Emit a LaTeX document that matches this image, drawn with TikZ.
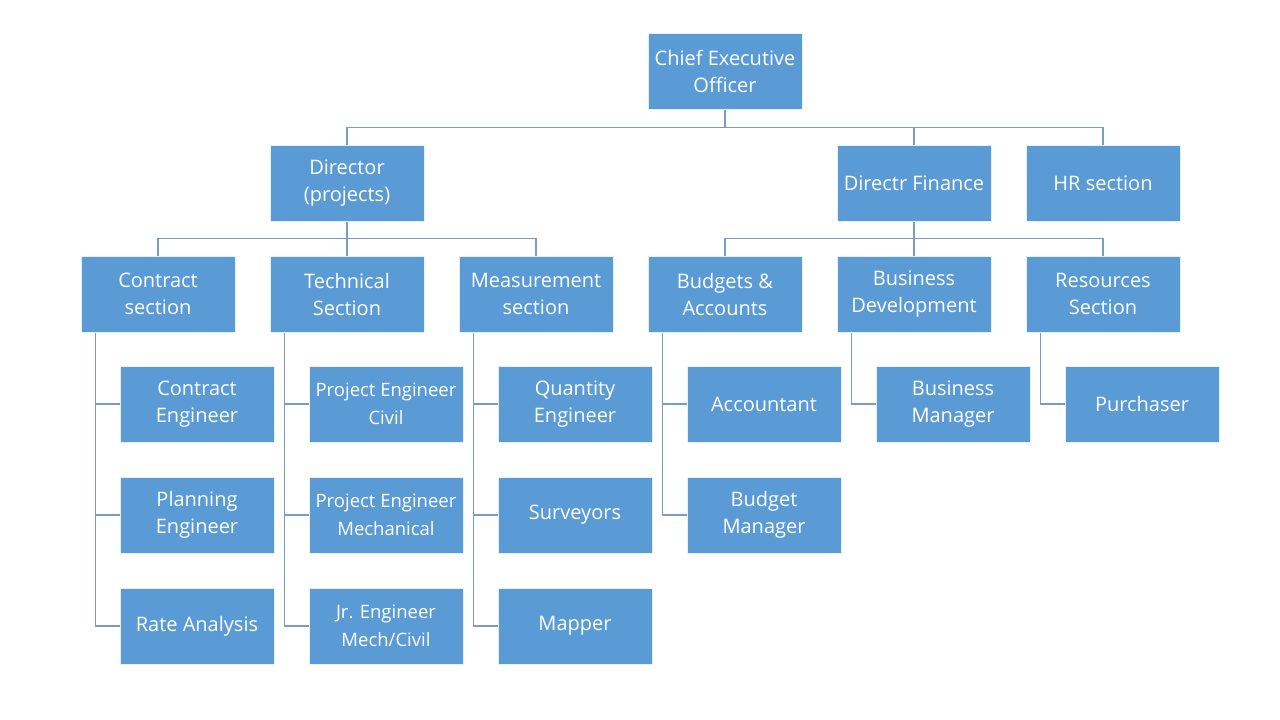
\documentclass[tikz,border=0pt]{standalone}
\usepackage{fontspec}
\setmainfont{Open Sans}
\definecolor{boxc}{HTML}{5B9BD5}
\definecolor{linec}{HTML}{7A9CC0}
\begin{document}
\begin{tikzpicture}[x=1pt,y=-1pt,
  box/.style={fill=boxc,draw=white!85!boxc,line width=1pt,minimum width=154pt,minimum height=76pt,text=white,align=center,font=\fontsize{20}{27}\selectfont,inner sep=1pt},
  sbox/.style={box,font=\fontsize{18.5}{28}\selectfont},
  conn/.style={draw=linec,line width=1.5pt}]
\useasboundingbox (0,0) rectangle (1280,720);
\node[box] (ceo) at (725,71) {Chief Executive\\Officer};
\node[box] (dp) at (347,183) {Director\\(projects)};
\node[box] (df) at (914,183) {Directr Finance};
\node[box] (hr) at (1103,183) {HR section};
\node[box] (cs) at (158,294) {Contract\\section};
\node[box] (ts) at (347,294) {Technical\\Section};
\node[box] (ms) at (536,294) {Measurement\\section};
\node[box] (ba) at (725,294) {Budgets \&\\Accounts};
\node[box] (bd) at (914,294) {Business\\Development};
\node[box] (rs) at (1103,294) {Resources\\Section};
\node[box] (ce) at (197,404) {Contract\\Engineer};
\node[box] (pe) at (197,515) {Planning\\Engineer};
\node[box] (ra) at (197,626) {Rate Analysis};
\node[sbox] (pc) at (386,404) {Project Engineer\\Civil};
\node[sbox] (pm) at (386,515) {Project Engineer\\Mechanical};
\node[sbox] (jr) at (386,626) {Jr. Engineer\\Mech/Civil};
\node[box] (qe) at (575,404) {Quantity\\Engineer};
\node[box] (sv) at (575,515) {Surveyors};
\node[box] (mp) at (575,626) {Mapper};
\node[box] (ac) at (764,404) {Accountant};
\node[box] (bm) at (764,515) {Budget\\Manager};
\node[box] (bsm) at (953,404) {Business\\Manager};
\node[box] (pu) at (1142,404) {Purchaser};
\begin{scope}[on background layer/.try]
\draw[conn] (ceo.south) -- ++(0,18) coordinate (b1);
\draw[conn] (dp.north) |- (b1) -| (hr.north);
\draw[conn] (df.north) -- (df.north |- b1);
\draw[conn] (dp.south) -- ++(0,17) coordinate (b2);
\draw[conn] (cs.north) |- (b2) -| (ms.north);
\draw[conn] (ts.north) -- (b2);
\draw[conn] (df.south) -- ++(0,17) coordinate (b3);
\draw[conn] (ba.north) |- (b3) -| (rs.north);
\draw[conn] (bd.north) -- (b3);
\foreach \p/\a/\b/\c in {cs/ce/pe/ra, ts/pc/pm/jr, ms/qe/sv/mp}{
  \draw[conn] ([xshift=15pt]\p.south west) |- (\c.west);
  \draw[conn] ([xshift=15pt]\p.south west |- \a.west) -- (\a.west);
  \draw[conn] ([xshift=15pt]\p.south west |- \b.west) -- (\b.west);
}
\draw[conn] ([xshift=15pt]ba.south west) |- (bm.west);
\draw[conn] ([xshift=15pt]ba.south west |- ac.west) -- (ac.west);
\draw[conn] ([xshift=15pt]bd.south west) |- (bsm.west);
\draw[conn] ([xshift=15pt]rs.south west) |- (pu.west);
\end{scope}
\end{tikzpicture}
\end{document}
